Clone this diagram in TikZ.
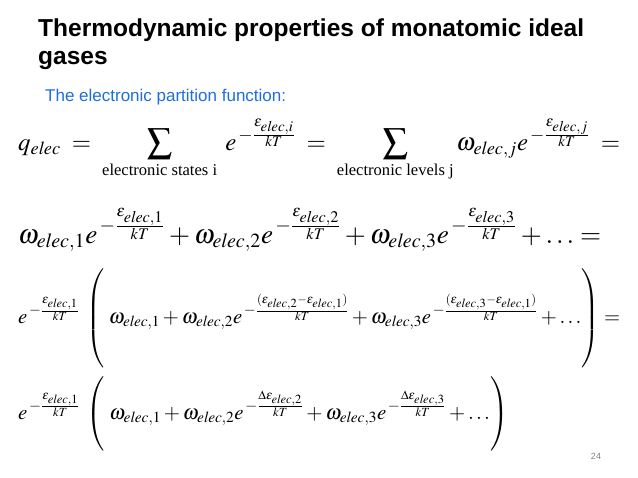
\documentclass[tikz,border=0pt]{standalone}
\usepackage{amsmath}
\usepackage{mathptmx}
\usepackage{fontspec}
\setsansfont{Liberation Sans}
\setmainfont{Liberation Serif}
\usepackage{graphicx}
\definecolor{subblue}{RGB}{30,110,220}
\tikzset{eqline/.style={anchor=west,inner sep=0pt,font=\fontsize{21}{25}\selectfont}}
\newcommand{\el}[1]{\mathit{elec},#1}
\newcommand{\ex}[1]{e^{\,-\frac{#1}{kT}}}
\begin{document}
\begin{tikzpicture}[x=1pt,y=-1pt]
\useasboundingbox (0,0) rectangle (638,478);
\node[anchor=west,inner sep=0pt,font=\sffamily\bfseries\fontsize{24.5}{28}\selectfont,align=left] (title) at (38,44) {Thermodynamic properties of monatomic ideal\\gases};
\node[anchor=west,inner sep=0pt,font=\sffamily\fontsize{17}{20}\selectfont,text=subblue] (sub) at (45,97) {The electronic partition function:};
\node[eqline] (l1) at (18,150) {\resizebox{602pt}{!}{$\displaystyle q_{\mathit{elec}}\;=\;\sum_{\text{\fontsize{14}{16}\selectfont electronic states i}}\;\ex{\varepsilon_{\el{i}}}\;=\;\sum_{\text{\fontsize{14}{16}\selectfont electronic levels j}}\omega_{\el{j}}\ex{\varepsilon_{\el{j}}}\;=$}};
\node[eqline] (l2) at (18,230) {\resizebox{583pt}{!}{$\displaystyle \omega_{\el1}\ex{\varepsilon_{\el1}}+\omega_{\el2}\ex{\varepsilon_{\el2}}+\omega_{\el3}\ex{\varepsilon_{\el3}}+\ldots=$}};
\node[eqline] (l3) at (18,318) {\resizebox{602pt}{!}{$\displaystyle \ex{\varepsilon_{\el1}}\;\left(\rule[-38pt]{0pt}{90pt}\;\omega_{\el1}+\omega_{\el2}e^{\,-\frac{(\varepsilon_{\el2}-\varepsilon_{\el1})}{kT}}+\omega_{\el3}e^{\,-\frac{(\varepsilon_{\el3}-\varepsilon_{\el1})}{kT}}+\ldots\right)=$}};
\node[eqline] (l4) at (18,414) {\resizebox{490pt}{!}{$\displaystyle \ex{\varepsilon_{\el1}}\;\left(\rule[-30pt]{0pt}{66pt}\;\omega_{\el1}+\omega_{\el2}\ex{\Delta\varepsilon_{\el2}}+\omega_{\el3}\ex{\Delta\varepsilon_{\el3}}+\ldots\right)$}};
\node[inner sep=0pt,font=\sffamily\fontsize{9}{10}\selectfont,text=gray] (pg) at (596,456) {24};
\end{tikzpicture}
\end{document}
